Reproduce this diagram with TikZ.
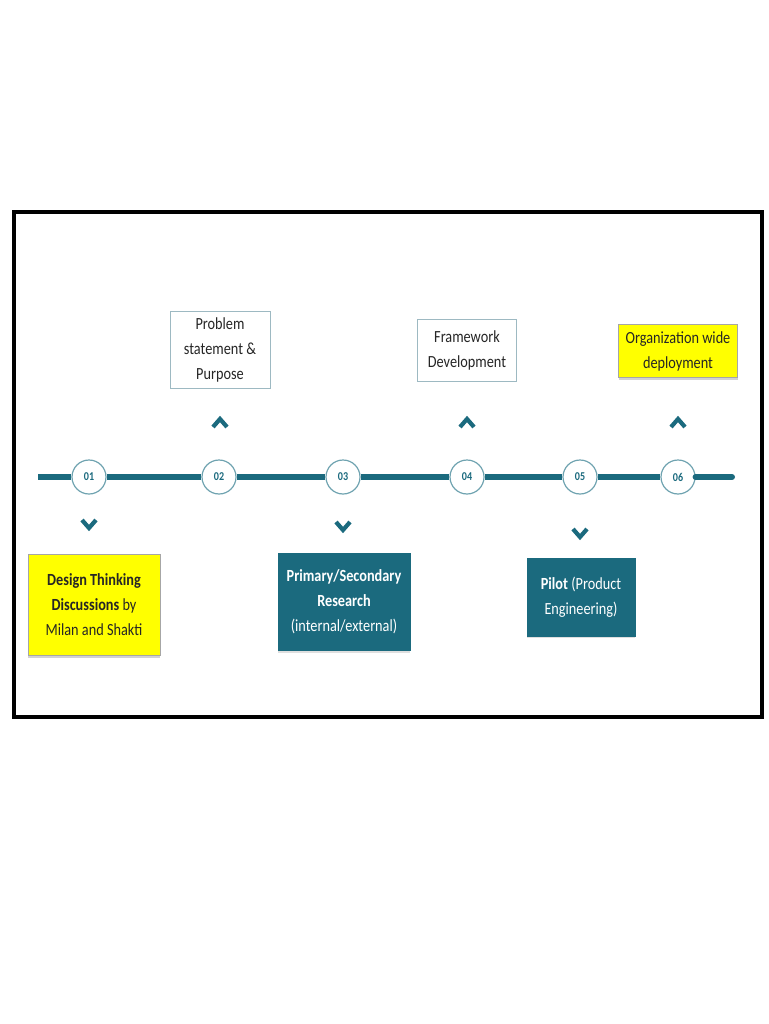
\documentclass[tikz,border=0pt]{standalone}
\usepackage{fontspec}
\setmainfont{Carlito}[FakeStretch=0.84]
\usetikzlibrary{positioning,shadows}

\definecolor{tealdark}{HTML}{1B6A7E}
\definecolor{ringteal}{HTML}{6FA3B0}
\definecolor{boxline}{HTML}{9DB9C2}
\definecolor{notehi}{HTML}{FFFF00}

\begin{document}
\begin{tikzpicture}[x=1pt,y=-1pt,
  step node/.style={circle,fill=white,draw=ringteal,line width=1.2pt,minimum size=34pt,inner sep=0pt,
    font=\fontsize{12}{12}\selectfont\bfseries,text=tealdark},
  up box/.style={rectangle,fill=white,draw=boxline,line width=1pt,align=center,inner sep=0pt,
    font=\fontsize{17}{25}\selectfont,text=black!85},
  hi box/.style={rectangle,fill=notehi,draw=black!35,line width=0.6pt,align=center,inner sep=0pt,
    font=\fontsize{17}{25}\selectfont,text=black!85,drop shadow={opacity=0.35,shadow xshift=0pt,shadow yshift=-2pt}},
  dark box/.style={rectangle,fill=tealdark,draw=tealdark,align=center,inner sep=0pt,
    font=\fontsize{17}{25}\selectfont,text=white,drop shadow={opacity=0.25,shadow xshift=0pt,shadow yshift=-2pt}},
  chev/.style={draw=tealdark,line width=4.2pt,line cap=butt,line join=miter},
  timeline/.style={draw=tealdark,line width=6pt}]

  \useasboundingbox (0,0) rectangle (768,1024);
  \fill[white] (0,0) rectangle (768,1024);

  % timeline
  \coordinate (start) at (38,477);
  \coordinate (end) at (732,477);

  \node[step node] (1) at (89,477) {01};
  \node[step node] (2) at (219,477) {02};
  \node[step node] (3) at (343,477) {03};
  \node[step node] (4) at (467,477) {04};
  \node[step node] (5) at (580,477) {05};
  \node[step node] (6) at (678,477) {06};

  \path[timeline]
    (start) edge (1)
    (1) edge (2)
    (2) edge (3)
    (3) edge (4)
    (4) edge (5)
    (5) edge (6)
    (6) edge[line cap=round] (end)
    ;

  % boxes above
  \node[up box,minimum width=100pt,minimum height=77pt] (p) at (220,350) {Problem\\statement \&\\Purpose};
  \node[up box,minimum width=99pt,minimum height=62pt] (f) at (467,350) {Framework\\Development};
  \node[hi box,minimum width=119pt,minimum height=53pt] (o) at (678,351) {Organization wide\\deployment};

  % boxes below
  \node[hi box,minimum width=132pt,minimum height=101pt] (d) at (94,605)
    {{\bfseries Design Thinking}\\{\bfseries Discussions} by\\Milan and Shakti};
  \node[dark box,minimum width=132pt,minimum height=97pt] (r) at (344,602)
    {{\bfseries Primary/Secondary}\\{\bfseries Research}\\(internal/external)};
  \node[dark box,minimum width=108pt,minimum height=78pt] (e) at (581,597)
    {{\bfseries Pilot} (Product\\Engineering)};

  % chevrons
  \foreach \x in {220,467,678}
    \draw[chev] (\x-7,427) -- (\x,419) -- (\x+7,427);
  \foreach \x/\y in {89/524,343/526,580/533}
    \draw[chev] (\x-7,\y-4) -- (\x,\y+4) -- (\x+7,\y-4);

  % frame
  \draw[black,line width=4pt] (14,212) rectangle (762,717);

\end{tikzpicture}
\end{document}
